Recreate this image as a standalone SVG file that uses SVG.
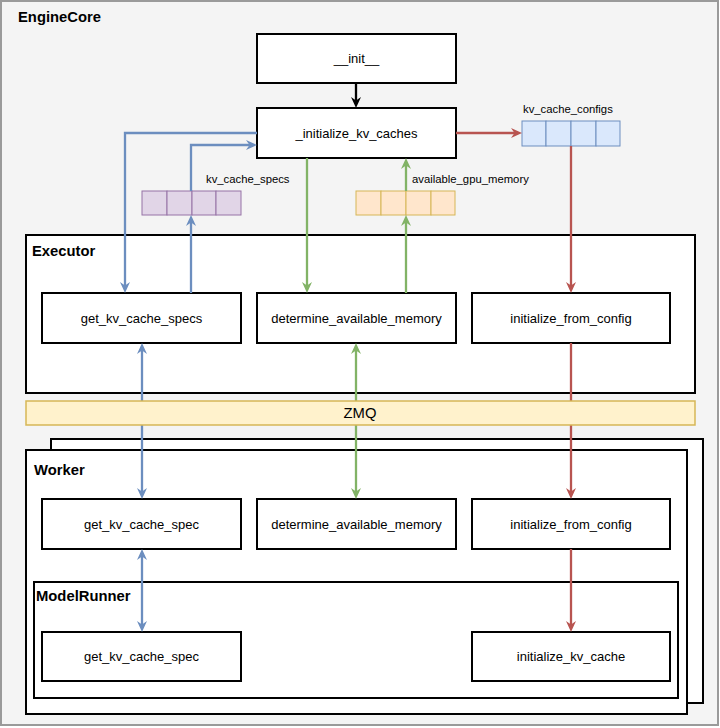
<svg xmlns="http://www.w3.org/2000/svg" width="720" height="728" viewBox="0 0 720 728">
<defs>
<style>
.frame{fill:#f4f4f4;stroke:#9a9a9a;stroke-width:2}
.cont{fill:#ffffff;stroke:#000000;stroke-width:2}
.box{fill:#ffffff;stroke:#000000;stroke-width:2}
.t{font-family:"Liberation Sans",Arial,Helvetica,sans-serif;font-size:13px;fill:#000;text-anchor:middle;dominant-baseline:central}
.zt{font-size:14.8px}
.title{font-family:"Liberation Sans",Arial,Helvetica,sans-serif;font-size:14.8px;font-weight:bold;fill:#000}
.lbl{font-family:"Liberation Sans",Arial,Helvetica,sans-serif;font-size:11.3px;fill:#000}
.purple{fill:#e1d5e7;stroke:#9673a6;stroke-width:1}
.orange{fill:#ffe6cc;stroke:#d6b656;stroke-width:1}
.lblue{fill:#dae8fc;stroke:#6c8ebf;stroke-width:1}
.zmq{fill:#fff2cc;stroke:#d6b656;stroke-width:1.5}
.e{fill:none;stroke-width:2.3}
.blue{stroke:#6c8ebf}
.green{stroke:#82b366}
.red{stroke:#b85450}
.black{stroke:#000000}
</style>
<marker id="aBlack" viewBox="0 0 11 10" refX="7" refY="5" markerWidth="11" markerHeight="10" markerUnits="userSpaceOnUse" orient="auto-start-reverse"><path d="M0,0 L11,5 L0,10 L3.5,5 z" fill="#000000"/></marker>
<marker id="aBlue" viewBox="0 0 11 10" refX="7" refY="5" markerWidth="11" markerHeight="10" markerUnits="userSpaceOnUse" orient="auto-start-reverse"><path d="M0,0 L11,5 L0,10 L3.5,5 z" fill="#6c8ebf"/></marker>
<marker id="aGreen" viewBox="0 0 11 10" refX="7" refY="5" markerWidth="11" markerHeight="10" markerUnits="userSpaceOnUse" orient="auto-start-reverse"><path d="M0,0 L11,5 L0,10 L3.5,5 z" fill="#82b366"/></marker>
<marker id="aRed" viewBox="0 0 11 10" refX="7" refY="5" markerWidth="11" markerHeight="10" markerUnits="userSpaceOnUse" orient="auto-start-reverse"><path d="M0,0 L11,5 L0,10 L3.5,5 z" fill="#b85450"/></marker>
</defs>

<g id="enginecore">
<rect class="frame" x="1" y="1" width="717" height="724"/>
<text class="title" x="18" y="22">EngineCore</text>
</g>

<g id="init">
<rect class="box" x="257" y="34" width="199" height="49"/>
<text class="t" x="356.5" y="58.5">__init__</text>
</g>
<g id="initialize_kv_caches">
<rect class="box" x="257" y="108" width="199" height="50"/>
<text class="t" x="356.5" y="133">_initialize_kv_caches</text>
</g>

<g id="kv_cache_specs">
<rect class="purple" x="142" y="191" width="25" height="24"/>
<rect class="purple" x="167" y="191" width="25" height="24"/>
<rect class="purple" x="192" y="191" width="24" height="24"/>
<rect class="purple" x="216" y="191" width="25" height="24"/>
<text class="lbl" x="206" y="183">kv_cache_specs</text>
</g>
<g id="available_gpu_memory">
<rect class="orange" x="356" y="191" width="25" height="24"/>
<rect class="orange" x="381" y="191" width="25" height="24"/>
<rect class="orange" x="406" y="191" width="25" height="24"/>
<rect class="orange" x="431" y="191" width="24" height="24"/>
<text class="lbl" x="412" y="183">available_gpu_memory</text>
</g>
<g id="kv_cache_configs">
<rect class="lblue" x="522" y="121" width="24" height="25"/>
<rect class="lblue" x="546" y="121" width="25" height="25"/>
<rect class="lblue" x="571" y="121" width="25" height="25"/>
<rect class="lblue" x="596" y="121" width="24" height="25"/>
<text class="lbl" x="523" y="113">kv_cache_configs</text>
</g>

<g id="executor">
<rect class="cont" x="26" y="235" width="669" height="158"/>
<text class="title" x="32" y="256">Executor</text>
</g>
<g id="exec_get_kv_cache_specs">
<rect class="box" x="42" y="293" width="199" height="50"/>
<text class="t" x="141.5" y="318">get_kv_cache_specs</text>
</g>
<g id="exec_determine_available_memory">
<rect class="box" x="257" y="293" width="199" height="50"/>
<text class="t" x="356.5" y="318">determine_available_memory</text>
</g>
<g id="exec_initialize_from_config">
<rect class="box" x="472" y="293" width="198" height="50"/>
<text class="t" x="571" y="318">initialize_from_config</text>
</g>

<g id="worker">
<rect class="cont" x="51" y="439" width="652" height="264"/>
<rect class="cont" x="26" y="450" width="661" height="264"/>
<text class="title" x="34" y="475">Worker</text>
</g>
<g id="worker_get_kv_cache_spec">
<rect class="box" x="42" y="499" width="199" height="50"/>
<text class="t" x="141.5" y="524">get_kv_cache_spec</text>
</g>
<g id="worker_determine_available_memory">
<rect class="box" x="257" y="499" width="199" height="50"/>
<text class="t" x="356.5" y="524">determine_available_memory</text>
</g>
<g id="worker_initialize_from_config">
<rect class="box" x="472" y="499" width="198" height="50"/>
<text class="t" x="571" y="524">initialize_from_config</text>
</g>

<g id="modelrunner">
<rect class="cont" x="34" y="582" width="644" height="116"/>
<text class="title" x="36" y="601">ModelRunner</text>
</g>
<g id="mr_get_kv_cache_spec">
<rect class="box" x="42" y="632" width="199" height="49"/>
<text class="t" x="141.5" y="656.5">get_kv_cache_spec</text>
</g>
<g id="mr_initialize_kv_cache">
<rect class="box" x="472" y="632" width="198" height="49"/>
<text class="t" x="571" y="656.5">initialize_kv_cache</text>
</g>

<g id="connectors">
<path class="e black" d="M356,83 V104" marker-end="url(#aBlack)"/>
<path class="e blue" d="M257,133 H125 V289" marker-end="url(#aBlue)"/>
<path class="e blue" d="M191,293 V219" marker-end="url(#aBlue)"/>
<path class="e blue" d="M191,191 V145 H253" marker-end="url(#aBlue)"/>
<path class="e green" d="M307,158 V289" marker-end="url(#aGreen)"/>
<path class="e green" d="M406,293 V219" marker-end="url(#aGreen)"/>
<path class="e green" d="M406,191 V162" marker-end="url(#aGreen)"/>
<path class="e red" d="M456,133 H518" marker-end="url(#aRed)"/>
<path class="e red" d="M571,146 V289" marker-end="url(#aRed)"/>
<path class="e blue" d="M142,347 V495" marker-start="url(#aBlue)" marker-end="url(#aBlue)"/>
<path class="e green" d="M356,347 V495" marker-start="url(#aGreen)" marker-end="url(#aGreen)"/>
<path class="e red" d="M571,343 V495" marker-end="url(#aRed)"/>
<path class="e red" d="M571,549 V628" marker-end="url(#aRed)"/>
<path class="e blue" d="M142,553 V628" marker-start="url(#aBlue)" marker-end="url(#aBlue)"/>
</g>

<g id="zmq">
<rect class="zmq" x="26" y="401" width="669" height="24"/>
<text class="t zt" x="360" y="413">ZMQ</text>
</g>
</svg>
